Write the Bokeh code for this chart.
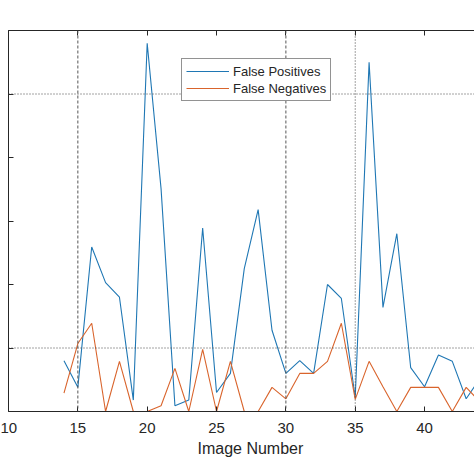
from bokeh.plotting import figure
from bokeh.models import Range1d, LinearAxis, Span, Legend, LegendItem, FixedTicker
from bokeh.embed import file_html
from bokeh.resources import INLINE

image_number = list(range(14, 45))
false_positives = [0.80, 0.38, 2.59, 2.03, 1.80, 0.18, 5.80, 3.51, 0.09, 0.18,
                   2.89, 0.30, 0.60, 2.25, 3.18, 1.28, 0.60, 0.80, 0.60, 2.00,
                   1.78, 0.22, 5.50, 1.64, 2.80, 0.69, 0.39, 0.89, 0.79, 0.20, 0.52]
false_negatives = [0.29, 1.07, 1.39, 0.00, 0.79, 0.00, 0.00, 0.09, 0.68, 0.00,
                   0.98, 0.00, 0.79, 0.00, 0.00, 0.38, 0.20, 0.60, 0.60, 0.79,
                   1.39, 0.19, 0.79, 0.39, 0.00, 0.38, 0.38, 0.38, 0.00, 0.38, 0.15]
x_ticks = [10, 15, 20, 25, 30, 35, 40]
y_ticks = [0, 1, 2, 3, 4, 5, 6]
x_grid_dashed = [15, 30]
x_grid_dotted = [35]
y_grid_dotted = [1, 5]
x_label = "Image Number"

FONT = "Liberation Sans"
AX = "#262626"

p = figure(width=474, height=474, output_backend="svg", toolbar_location=None,
           x_range=Range1d(10, 43.6), y_range=Range1d(0, 6),
           x_axis_location=None, y_axis_location=None,
           title=x_label, title_location="below",
           min_border_left=8, min_border_right=0, min_border_top=30, min_border_bottom=63)
p.outline_line_color = None
p.xgrid.visible = False
p.ygrid.visible = False
p.background_fill_color = "white"
p.border_fill_color = "white"

# x-axis label (centred on the original, uncropped axis width)
p.title.align = "left"
p.title.offset = 189
p.title.standoff = 8
p.title.vertical_align = "top"
p.title.text_font = FONT
p.title.text_font_size = "16px"
p.title.text_font_style = "normal"
p.title.text_color = AX

bottom = LinearAxis(ticker=FixedTicker(ticks=x_ticks))
bottom.major_tick_in = 5
bottom.major_tick_out = 0
bottom.minor_tick_line_color = None
bottom.axis_line_color = AX
bottom.major_tick_line_color = AX
bottom.major_label_text_font = FONT
bottom.major_label_text_font_size = "15px"
bottom.major_label_text_color = AX
bottom.major_label_standoff = 11
p.add_layout(bottom, "below")

top = LinearAxis(ticker=FixedTicker(ticks=x_ticks))
top.major_tick_in = 5
top.major_tick_out = 0
top.minor_tick_line_color = None
top.axis_line_color = AX
top.major_tick_line_color = AX
top.major_label_text_font_size = "1px"
top.major_label_text_color = None
top.major_label_standoff = 0
p.add_layout(top, "above")

left = LinearAxis(ticker=FixedTicker(ticks=y_ticks))
left.major_tick_in = 5
left.major_tick_out = 0
left.minor_tick_line_color = None
left.axis_line_color = AX
left.major_tick_line_color = AX
left.major_label_text_font_size = "1px"
left.major_label_text_color = None
left.major_label_standoff = 0
p.add_layout(left, "left")

for xv in x_grid_dashed:
    p.add_layout(Span(location=xv, dimension="height", line_color="#555555",
                      line_width=1, line_dash="3 2"))
for xv in x_grid_dotted:
    p.add_layout(Span(location=xv, dimension="height", line_color="#444444",
                      line_width=1, line_dash="1 2"))
for yv in y_grid_dotted:
    p.add_layout(Span(location=yv, dimension="width", line_color="#444444",
                      line_width=1, line_dash="1 2"))

r1 = p.line(image_number, false_positives, line_color="#1f77b4", line_width=1.1)
r2 = p.line(image_number, false_negatives, line_color="#d9642c", line_width=1.1)

legend = Legend(items=[LegendItem(label="False Positives", renderers=[r1]),
                       LegendItem(label="False Negatives", renderers=[r2])],
                location=(173, 310))
legend.label_text_font = FONT
legend.label_text_font_size = "13px"
legend.label_text_color = AX
legend.border_line_color = AX
legend.border_line_width = 1
legend.padding = 4
legend.spacing = 1
legend.margin = 0
legend.glyph_width = 43
legend.glyph_height = 16
legend.label_height = 16
legend.label_standoff = 4
legend.background_fill_alpha = 1
p.add_layout(legend, "center")

open("out.html", "w").write(file_html(p, INLINE))
